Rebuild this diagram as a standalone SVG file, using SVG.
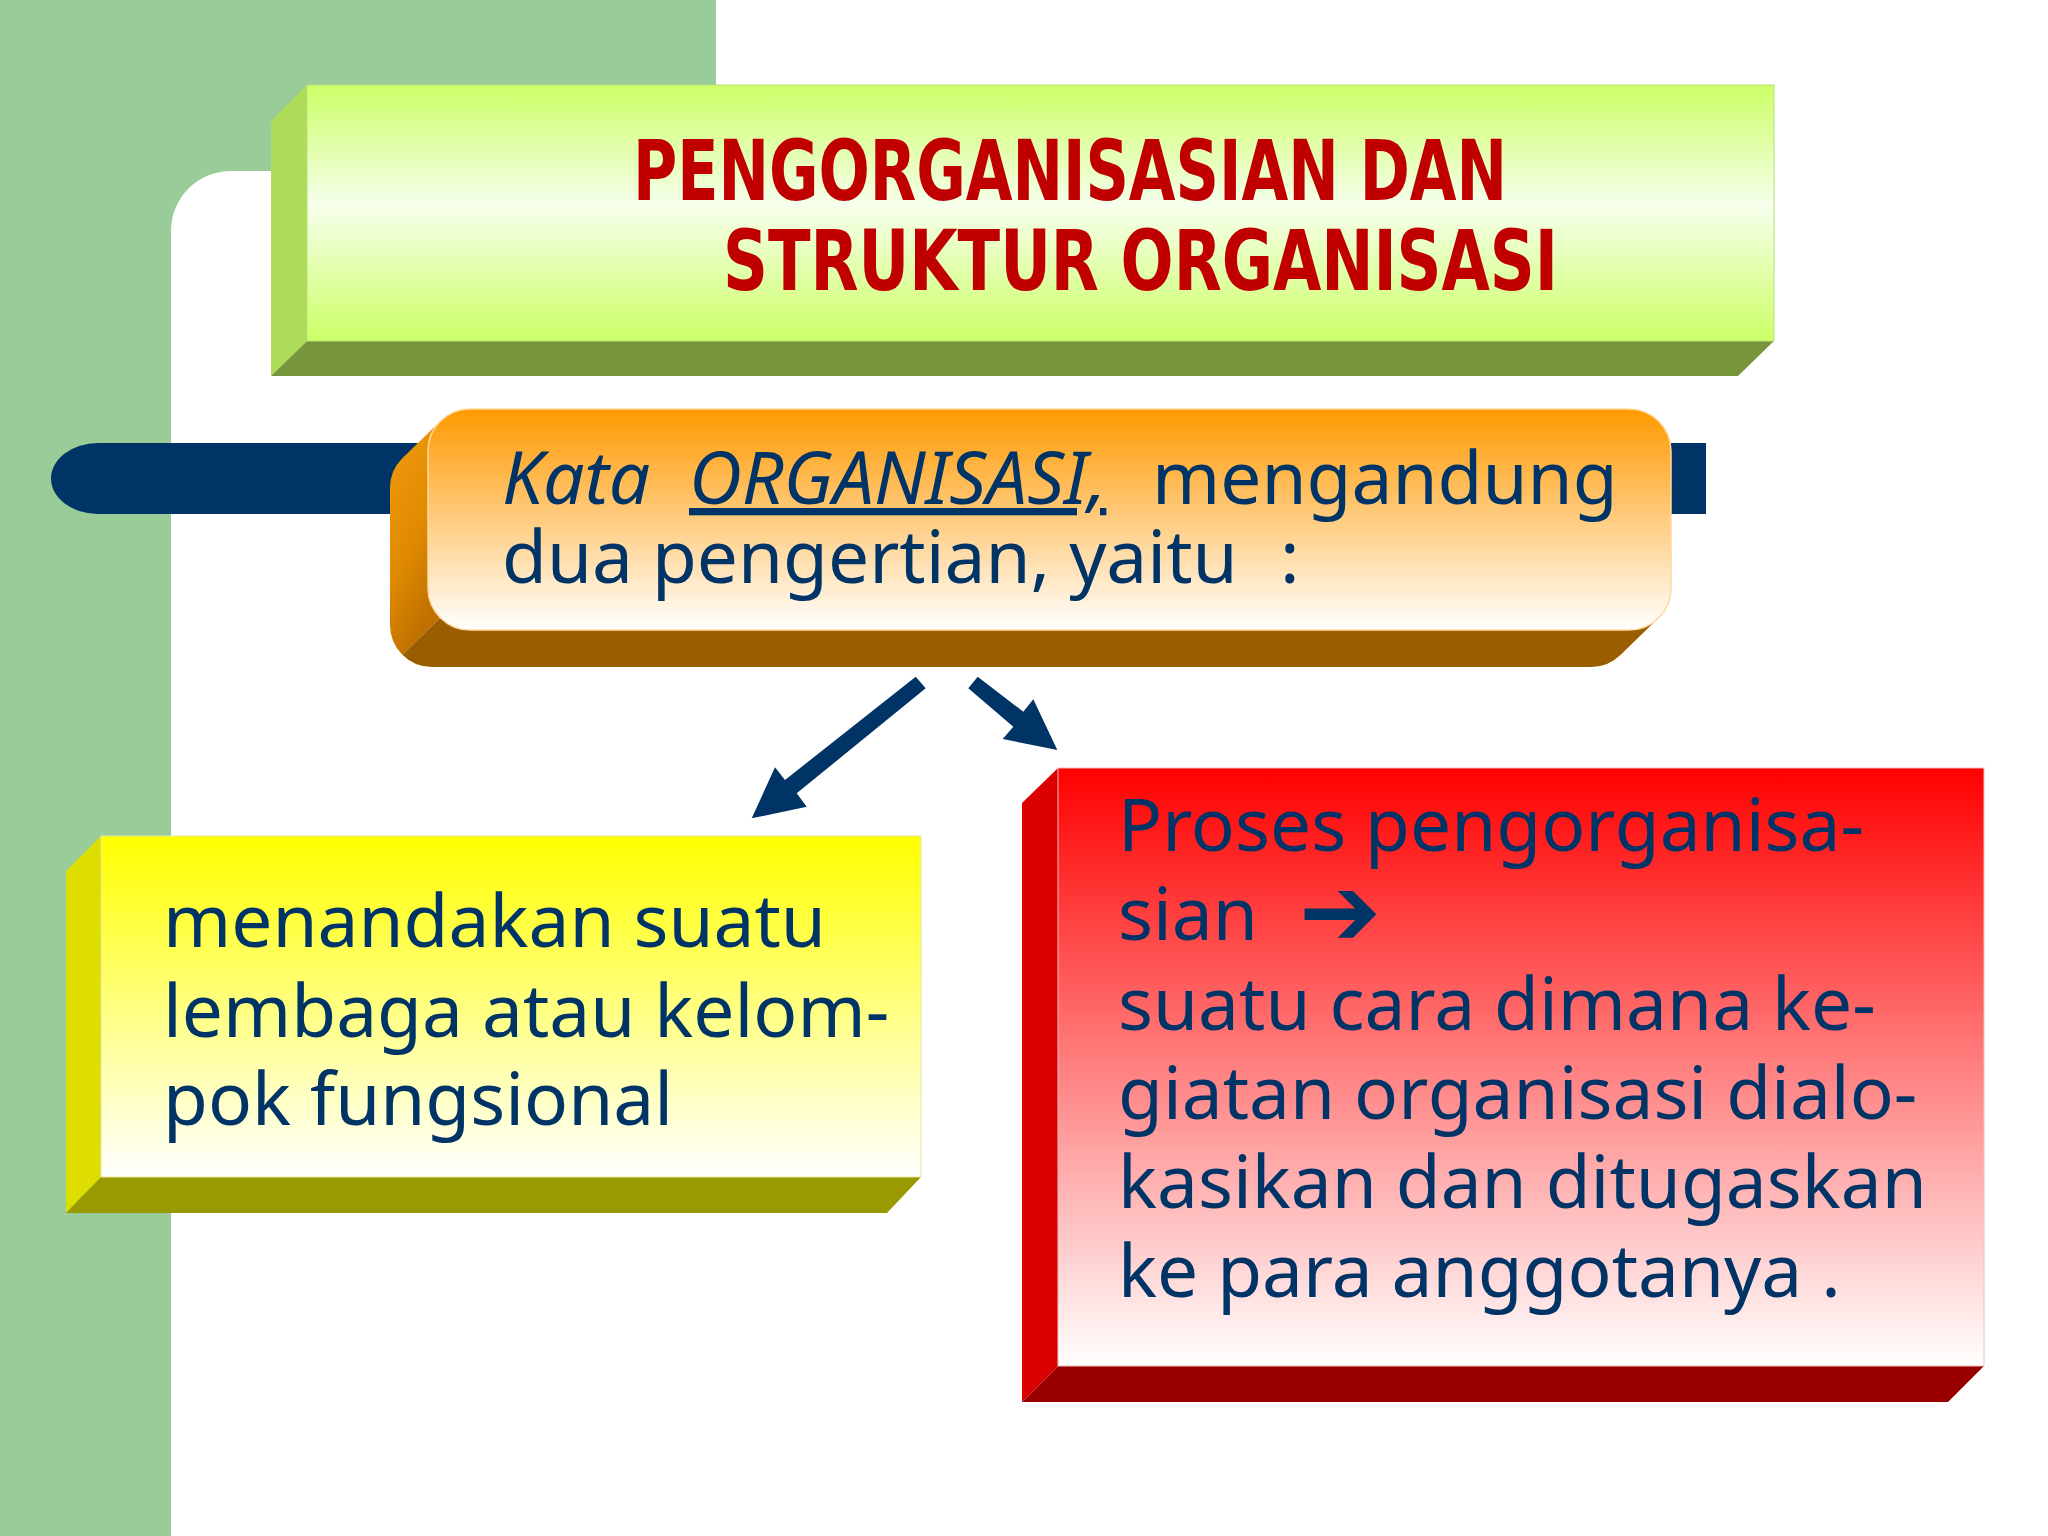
<svg xmlns="http://www.w3.org/2000/svg" width="2048" height="1536" viewBox="0 0 2048 1536">
  <defs>
    <linearGradient id="gTitle" x1="0" y1="0" x2="0" y2="1">
      <stop offset="0" stop-color="#CCFF66"/>
      <stop offset="0.47" stop-color="#F6FFEC"/>
      <stop offset="1" stop-color="#CCFF66"/>
    </linearGradient>
    <linearGradient id="gOrange" x1="0" y1="0" x2="0" y2="1">
      <stop offset="0" stop-color="#FF9900"/>
      <stop offset="1" stop-color="#FFFFFF"/>
    </linearGradient>
    <linearGradient id="gOrangeSide" x1="0" y1="0" x2="0.4" y2="1">
      <stop offset="0" stop-color="#F39C10"/>
      <stop offset="0.6" stop-color="#E08A00"/>
      <stop offset="1" stop-color="#BE7000"/>
    </linearGradient>
    <linearGradient id="gYellow" x1="0" y1="0" x2="0" y2="1">
      <stop offset="0" stop-color="#FFFF00"/>
      <stop offset="1" stop-color="#FFFFFF"/>
    </linearGradient>
    <linearGradient id="gRed" x1="0" y1="0" x2="0" y2="1">
      <stop offset="0" stop-color="#FF0000"/>
      <stop offset="1" stop-color="#FFFFFF"/>
    </linearGradient>
  </defs>
  <style>
    .body { font-family: "Noto Sans", "Open Sans", "DejaVu Sans", sans-serif; font-size: 73px; fill: #003366; }
    .title { font-family: "DejaVu Sans Condensed", "DejaVu Sans", sans-serif; font-weight: bold; font-size: 84px; fill: #C00000; }
    .arrow { fill: #003366; }
  </style>

  <!-- background -->
  <rect x="0" y="0" width="2048" height="1536" fill="#FFFFFF"/>
  <path d="M0,0 H716 V171 H231 A60,60 0 0 0 171,231 V1536 H0 Z" fill="#99CC99"/>

  <!-- title node -->
  <g id="title">
    <polygon points="271,121 307,85 307,341 271,376" fill="#AEDC58"/>
    <polygon points="271,376 307,341 1774,341 1738,376" fill="#77963C"/>
    <rect x="307" y="85" width="1467" height="256" fill="url(#gTitle)" stroke="#B8E07A" stroke-width="1"/>
    <text class="title" x="633" y="200" textLength="874" lengthAdjust="spacingAndGlyphs">PENGORGANISASIAN DAN</text>
    <text class="title" x="723" y="290" textLength="835" lengthAdjust="spacingAndGlyphs">STRUKTUR ORGANISASI</text>
  </g>

  <!-- navy bar -->
  <g id="bar">
    <path d="M98,443 H1706 V514 H98 A47,35.5 0 0 1 98,443 Z" fill="#003366"/>
  </g>

  <!-- orange node -->
  <g id="node-kata">
    <path d="M440.3,421.3 A42,42 0 0 0 428,451 L428,588 A42,42 0 0 0 440.3,617.7 L402.3,654.7 A42,42 0 0 1 390,625 L390,488 A42,42 0 0 1 402.3,458.3 Z" fill="url(#gOrangeSide)"/>
    <path d="M440.3,617.7 A42,42 0 0 0 470,630 L1629,630 A42,42 0 0 0 1658.7,617.7 L1620.7,654.7 A42,42 0 0 1 1591,667 L432,667 A42,42 0 0 1 402.3,654.7 Z" fill="#9A5E00"/>
    <rect x="428" y="409" width="1243" height="221" rx="42" ry="42" fill="url(#gOrange)" stroke="#FFD9A0" stroke-width="1.5"/>
    <text class="body" x="502" y="504" font-style="italic">Kata</text>
    <text class="body" x="689" y="504" font-style="italic" text-decoration="underline">ORGANISASI,</text>
    <text class="body" x="1152" y="504">mengandung</text>
    <text class="body" x="502" y="583">dua pengertian, yaitu</text>
    <text class="body" x="1280" y="583">:</text>
  </g>

  <!-- connectors -->
  <g id="connectors">
    <polygon class="arrow" points="915.7,676.7 925.7,688.3 796.7,793.3 806.7,806.7 751.7,818.3 775,767.3 785,780"/>
    <polygon class="arrow" points="977.7,676.7 968.3,688.3 1013.3,726.7 1002.7,739 1057.3,750 1033.3,699.3 1023.3,711.7"/>
  </g>

  <!-- yellow node -->
  <g id="node-lembaga">
    <polygon points="66,871 101,836 101,1177 66,1213" fill="#DDDD00"/>
    <polygon points="66,1213 101,1177 921,1177 887,1213" fill="#999900"/>
    <rect x="101" y="836" width="820" height="341" fill="url(#gYellow)" stroke="#E6E6A0" stroke-width="1"/>
    <text class="body">
      <tspan x="163" y="947">menandakan suatu</tspan>
      <tspan x="163" y="1037">lembaga atau kelom-</tspan>
      <tspan x="163" y="1125">pok fungsional</tspan>
    </text>
  </g>

  <!-- red node -->
  <g id="node-proses">
    <polygon points="1022,803 1058,768 1058,1366 1022,1402" fill="#DD0000"/>
    <polygon points="1022,1402 1058,1366 1984,1366 1948,1402" fill="#990000"/>
    <rect x="1058" y="768" width="926" height="598" fill="url(#gRed)" stroke="#F0C0C0" stroke-width="1"/>
    <text class="body">
      <tspan x="1118" y="851">Proses pengorganisa-</tspan>
      <tspan x="1118" y="940">sian</tspan>
      <tspan x="1118" y="1030">suatu cara dimana ke-</tspan>
      <tspan x="1118" y="1119">giatan organisasi dialo-</tspan>
      <tspan x="1118" y="1208">kasikan dan ditugaskan</tspan>
      <tspan x="1118" y="1297">ke para anggotanya .</tspan>
    </text>
    <text x="1299" y="945" font-family="DejaVu Sans, sans-serif" font-weight="bold" font-size="98" fill="#003366">➔</text>
  </g>
</svg>
